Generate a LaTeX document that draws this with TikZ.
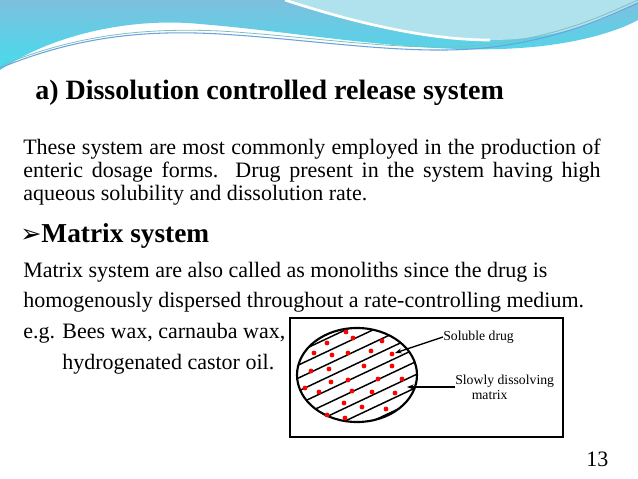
\documentclass[tikz,border=0pt]{standalone}
\usepackage{fontspec}
\setmainfont{Liberation Serif}
\newfontfamily\dejavu{DejaVu Sans}
\usetikzlibrary{arrows.meta}
\definecolor{wave1}{RGB}{125,192,222}
\definecolor{wave2}{RGB}{175,226,236}
\begin{document}
\begin{tikzpicture}[x=0.75pt,y=-0.75pt,
  body/.style={anchor=west,inner sep=0,font=\fontsize{16.5}{17.3}\selectfont},
  lbl/.style={anchor=west,inner sep=0,font=\fontsize{10.3}{11}\selectfont,align=left},
  dot/.style={fill=red,draw=none},
  hatch/.style={line width=1.1pt},
  arr/.style={line width=1pt,-{Stealth[length=5pt]}}]
\useasboundingbox (0,0) rectangle (638,478);
\fill[white] (0,0) rectangle (638,478);
% header waves
\shade[top color=wave1,bottom color=cyan!45!wave1] (0,0) -- (0,70) .. controls (60,30) and (140,18) .. (200,24)
  .. controls (300,32) and (420,55) .. (520,48) .. controls (580,44) and (620,30) .. (638,20) -- (638,0) -- cycle;
\fill[wave2] (285,0) .. controls (340,18) and (420,40) .. (490,40)
  .. controls (560,40) and (610,18) .. (638,2) -- (638,0) -- cycle;
\draw[white,line width=2pt] (285,0) .. controls (340,18) and (420,40) .. (490,40);
\draw[cyan!60!blue!60,line width=0.8pt] (0,68) .. controls (80,35) and (150,30) .. (220,34)
  .. controls (320,40) and (420,58) .. (500,46) .. controls (570,36) and (610,15) .. (638,3);
\draw[teal!50,line width=0.6pt] (0,66) .. controls (80,33) and (150,28) .. (220,31)
  .. controls (320,37) and (420,55) .. (500,43) .. controls (570,33) and (610,12) .. (638,0);
% texts
\node[anchor=west,inner sep=0,font=\bfseries\fontsize{21}{24}\selectfont] (title) at (35,93) {a) Dissolution controlled release system};
\node[anchor=north west,inner sep=0,text width=433pt,align=justify,font=\fontsize{16.5}{17.3}\selectfont] (para) at (23,139)
 {These system are most commonly employed in the production of enteric dosage forms. Drug present in the system having high aqueous solubility and dissolution rate.};
\node[anchor=west,inner sep=0,font=\bfseries\fontsize{20.5}{24}\selectfont] (ms) at (20,236) {{\dejavu\mdseries\fontsize{19}{20}\selectfont ➢}Matrix system};
\node[body] (l1) at (23,272) {Matrix system are also called as monoliths since the drug is};
\node[body] (l2) at (23,302) {homogenously dispersed throughout a rate-controlling medium.};
\node[body] (l3) at (23,333) {e.g. Bees wax, carnauba wax,};
\node[body] (l4) at (62,364) {hydrogenated castor oil.};
\node[body] (pg) at (586,459) {13};
% figure
\draw[line width=1.3pt] (290,318) rectangle (563,437);
\begin{scope}
\clip (357,375) ellipse [x radius=60,y radius=47];
\foreach \k in {-5,...,6} {
  \draw[hatch] (290,{375+\k*13+33}) -- (430,{375+\k*13-33});
}
\end{scope}
\draw[line width=1.6pt] (357,375) ellipse [x radius=60,y radius=47];
\foreach \p in {(346,332),(327,343),(353,338),(382,341),(314,353),(332,355),(348,353),(371,351),(392,354),
  (311,371),(329,369),(364,366),(392,366),(331,382),(348,380),(378,379),(402,379),(305,388),(319,392),
  (352,391),(372,392),(395,393),(344,403),(362,407),(386,409),(327,415),(345,418)}
  \fill[dot] \p circle (2.4);
\node[lbl] (sd) at (443,337) {Soluble drug};
\node[lbl,align=left] (sm) at (455,387) {Slowly dissolving\\\hspace*{1.2em}matrix};
\coordinate (a1) at (395,353);
\coordinate (a2) at (407,387);
\draw[arr] (sd.west) -- (a1);
\draw[arr] (sm.west) -- (a2);
\end{tikzpicture}
\end{document}
